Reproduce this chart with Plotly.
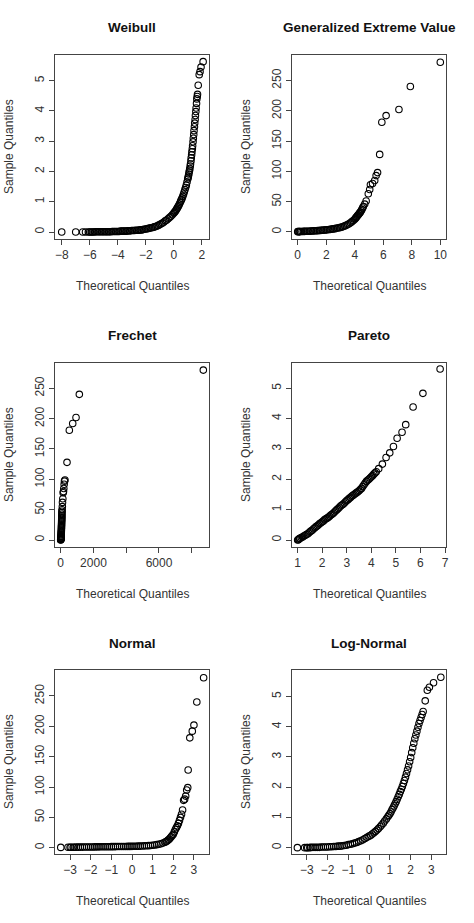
import plotly.graph_objects as go

titles = ["Weibull", "Generalized Extreme Value", "Frechet", "Pareto", "Normal", "Log-Normal"]

weibull_pts = [(-8.0,0.0),(-7.0,0.0),(-6.5,0.0),(-6.3,0.0),(-6.1,0.0),(-6.0,0.0),(-5.9,0.0),(-5.8,0.0),(-5.7,0.0),(-5.6,0.01),(-5.5,0.01),(-5.4,0.01),(-5.3,0.01),(-5.2,0.01),(-5.1,0.01),(-5.0,0.01),
    (-4.9,0.01),(-4.8,0.01),(-4.7,0.01),(-4.6,0.01),(-4.5,0.01),(-4.4,0.02),(-4.3,0.02),(-4.2,0.02),(-4.1,0.02),(-4.0,0.02),(-3.9,0.02),(-3.8,0.03),(-3.7,0.03),(-3.6,0.03),(-3.5,0.03),(-3.4,0.03),(-3.3,0.04),(-3.2,0.04),(-3.1,0.04),(-3.0,0.05),
    (-2.9,0.05),(-2.8,0.05),(-2.7,0.06),(-2.6,0.06),(-2.5,0.06),(-2.4,0.07),(-2.3,0.07),(-2.2,0.08),(-2.1,0.09),(-2.0,0.1),(-1.9,0.11),(-1.8,0.12),(-1.7,0.13),(-1.6,0.14),(-1.5,0.15),(-1.4,0.17),(-1.3,0.18),(-1.2,0.2),(-1.1,0.22),(-1.0,0.25),
    (-0.9,0.27),(-0.8,0.3),(-0.7,0.33),(-0.6,0.37),(-0.5,0.4),(-0.4,0.44),(-0.3,0.48),(-0.2,0.52),(-0.1,0.57),(0.0,0.62),(0.05,0.65),(0.1,0.68),(0.15,0.71),(0.2,0.75),(0.25,0.79),(0.3,0.83),(0.35,0.87),(0.4,0.92),(0.45,0.97),(0.5,1.02),
    (0.55,1.07),(0.6,1.12),(0.65,1.18),(0.7,1.25),(0.75,1.32),(0.8,1.4),(0.85,1.47),(0.9,1.55),(0.95,1.65),(1.0,1.75),(1.03,1.8),(1.05,1.85),(1.08,1.92),(1.1,1.98),(1.13,2.04),(1.15,2.1),(1.18,2.18),(1.2,2.25),(1.23,2.35),(1.25,2.45),(1.28,2.55),
    (1.3,2.65),(1.33,2.75),(1.35,2.85),(1.38,2.98),(1.4,3.1),(1.43,3.22),(1.45,3.35),(1.48,3.48),(1.5,3.6),(1.53,3.72),(1.55,3.85),(1.58,3.98),(1.6,4.1),(1.63,4.25),(1.65,4.4),(1.68,4.48),(1.7,4.55),(1.75,4.85),
    (1.82,5.2),(1.88,5.3),(1.95,5.45),(2.1,5.63)]

gev_pts = [(0.0,0.5),(0.05,0.55),(0.1,0.6),(0.15,0.65),(0.2,0.7),(0.3,0.8),(0.4,0.9),(0.5,1.0),(0.6,1.1),(0.7,1.2),(0.8,1.3),(0.9,1.45),(1.0,1.6),(1.1,1.75),(1.2,1.9),(1.3,2.05),(1.4,2.2),(1.5,2.4),(1.6,2.6),(1.7,2.8),
    (1.8,3.0),(1.9,3.25),(2.0,3.5),(2.1,3.75),(2.2,4.0),(2.3,4.35),(2.4,4.7),(2.5,5.1),(2.6,5.5),(2.7,6.0),(2.8,6.5),(2.9,7.0),(3.0,7.5),(3.1,8.2),(3.2,9.0),(3.3,10.0),(3.4,11.0),(3.5,12.2),(3.6,13.5),(3.7,15.2),
    (3.8,17.0),(3.9,19.0),(4.0,21.0),(4.05,22.5),(4.1,24.0),(4.15,25.5),(4.2,27.0),(4.25,28.5),(4.3,30.0),(4.35,31.5),(4.4,33.0),(4.45,35.0),(4.5,37.0),(4.55,39.5),(4.6,42.0),(4.7,46.0),(4.8,51.0),
    (4.95,63.0),(5.05,70.0),(5.1,78.0),(5.25,80.0),(5.4,85.0),(5.5,93.0),(5.6,98.0),(5.75,128.0),(5.9,181.0),(6.2,192.0),
    (7.1,202.0),(7.9,240.0),(10.0,280.0)]

frechet_pts = [(0,0),(2,0.5),(5,1),(8,1.5),(10,2),(12,2.5),(15,3),(18,4),(20,5),(22,6),(25,7),(28,8.5),(30,10),(33,11.5),(35,13),(38,14.5),(40,16),(43,18),(45,20),(48,22),(50,24),(53,26),(55,28),(58,30),(60,32),
    (63,34),(65,36),(68,38),(70,40),(73,42.5),(75,45),(80,47.5),(85,50),(100,55),(110,62),(130,68),(150,78),(170,80),(190,85),(210,92),(230,97),
    (260,99),(385,128),(526,181),(733,192),(935,202),(1137,240),(8706,280)]

pareto_pts = [(1.0,0.0),(1.03,0.01),(1.05,0.03),(1.08,0.05),(1.1,0.06),(1.15,0.08),(1.2,0.1),(1.25,0.13),(1.3,0.15),(1.35,0.18),(1.4,0.2),(1.45,0.23),(1.5,0.27),(1.55,0.3),(1.6,0.33),(1.65,0.37),(1.7,0.4),(1.75,0.44),(1.8,0.47),(1.85,0.5),
    (1.9,0.54),(1.95,0.57),(2.0,0.6),(2.05,0.63),(2.1,0.67),(2.15,0.7),(2.2,0.72),(2.25,0.75),(2.3,0.78),(2.35,0.82),(2.4,0.85),(2.45,0.88),(2.5,0.92),(2.55,0.96),(2.6,1.0),(2.65,1.04),(2.7,1.08),(2.75,1.12),(2.8,1.15),(2.85,1.18),
    (2.9,1.22),(2.95,1.26),(3.0,1.3),(3.05,1.33),(3.1,1.37),(3.15,1.4),(3.2,1.44),(3.25,1.47),(3.3,1.5),(3.35,1.53),(3.4,1.56),(3.45,1.59),(3.5,1.62),(3.55,1.66),(3.6,1.7),(3.65,1.76),(3.7,1.82),(3.75,1.88),(3.8,1.93),(3.85,1.97),
    (3.9,2.0),(3.95,2.04),(4.0,2.08),(4.05,2.12),(4.1,2.17),(4.15,2.21),(4.2,2.25),(4.3,2.35),(4.45,2.5),(4.6,2.72),(4.75,2.87),(4.9,3.08),(5.05,3.35),
    (5.25,3.55),(5.4,3.8),(5.7,4.38),(6.1,4.83),(6.8,5.63)]

normal_pts = [(-3.45,0.5),(-3.1,0.6),(-3.0,0.65),(-2.95,0.7),(-2.85,0.75),(-2.8,0.8),(-2.7,0.85),(-2.6,0.9),(-2.5,0.95),(-2.4,1.0),(-2.3,1.05),(-2.2,1.1),(-2.1,1.15),(-2.0,1.2),(-1.9,1.25),(-1.8,1.3),(-1.7,1.35),(-1.6,1.4),
    (-1.5,1.45),(-1.4,1.5),(-1.3,1.55),(-1.2,1.6),(-1.1,1.65),(-1.0,1.7),(-0.9,1.75),(-0.8,1.8),(-0.7,1.85),(-0.6,1.9),(-0.5,1.95),(-0.4,2.0),(-0.3,2.05),(-0.2,2.1),(-0.1,2.15),(0.0,2.2),(0.1,2.3),(0.2,2.4),(0.3,2.5),(0.4,2.6),
    (0.5,2.8),(0.6,3.0),(0.7,3.2),(0.8,3.4),(0.9,3.7),(1.0,4.0),(1.1,4.5),(1.2,5.0),(1.3,5.7),(1.4,6.5),(1.5,7.7),(1.6,9.0),(1.65,10.0),(1.7,11.0),(1.75,12.5),(1.8,14.0),(1.85,16.0),(1.9,18.0),(1.95,20.0),(2.0,22.0),
    (2.05,26.0),(2.1,30.0),(2.15,33.0),(2.2,36.0),(2.25,40.0),(2.3,45.0),(2.35,50.0),(2.4,55.0),(2.45,62.0),(2.5,78.0),(2.55,80.0),(2.6,85.0),(2.65,95.0),
    (2.7,99.0),(2.72,128.0),(2.8,181.0),(2.92,192.0),(3.0,202.0),(3.14,240.0),(3.47,280.0)]

lognormal_pts = [(-3.45,0.0),(-3.1,0.0),(-3.0,0.0),(-2.95,0.0),(-2.85,0.0),(-2.8,0.01),(-2.7,0.01),(-2.6,0.01),(-2.5,0.01),(-2.4,0.01),(-2.3,0.02),(-2.2,0.02),(-2.1,0.02),(-2.0,0.02),(-1.9,0.03),(-1.8,0.03),(-1.7,0.04),
    (-1.6,0.04),(-1.5,0.05),(-1.4,0.05),(-1.3,0.06),(-1.2,0.07),(-1.1,0.08),(-1.0,0.1),(-0.9,0.11),(-0.8,0.13),(-0.7,0.15),(-0.6,0.17),(-0.5,0.2),(-0.4,0.23),(-0.3,0.26),(-0.2,0.3),(-0.1,0.34),(0.0,0.38),(0.08,0.41),(0.15,0.45),
    (0.23,0.49),(0.3,0.53),(0.38,0.58),(0.45,0.63),(0.53,0.69),(0.6,0.75),(0.68,0.81),(0.75,0.88),(0.83,0.95),(0.9,1.02),(0.95,1.07),(1.0,1.12),(1.05,1.18),(1.1,1.25),(1.15,1.31),(1.2,1.38),(1.25,1.45),(1.3,1.52),(1.35,1.6),(1.4,1.68),
    (1.45,1.76),(1.5,1.85),(1.55,1.93),(1.6,2.02),(1.65,2.12),(1.7,2.22),(1.75,2.33),(1.8,2.45),(1.85,2.57),(1.9,2.7),(1.95,2.84),(2.0,2.98),(2.05,3.14),(2.1,3.3),(2.15,3.45),(2.2,3.6),(2.25,3.72),(2.3,3.85),(2.35,3.98),(2.4,4.1),
    (2.45,4.2),(2.5,4.3),(2.55,4.4),(2.6,4.5),(2.7,4.85),(2.8,5.2),(2.9,5.3),(3.1,5.45),(3.45,5.63)]

panels_pts = [weibull_pts, gev_pts, frechet_pts, pareto_pts, normal_pts, lognormal_pts]

x_ranges = [[-8.48, 2.52], [-0.4, 10.4], [-348, 9053], [0.77, 7.04], [-3.73, 3.73], [-3.71, 3.70]]
y_ranges = [[-0.23, 5.85], [-11.6, 292], [-11.5, 291.7], [-0.23, 5.83], [-10.4, 292.8], [-0.21, 5.87]]
x_ticks = [[-8, -6, -4, -2, 0, 2], [0, 2, 4, 6, 8, 10], [0, 2000, 4000, 6000, 8000], [1, 2, 3, 4, 5, 6, 7],
           [-3, -2, -1, 0, 1, 2, 3], [-3, -2, -1, 0, 1, 2, 3]]
x_ticktext = [None, None, ["0", "2000", "", "6000", ""], None, None, None]
y_ticks = [[0, 1, 2, 3, 4, 5], [0, 50, 100, 150, 200, 250], [0, 50, 100, 150, 200, 250], [0, 1, 2, 3, 4, 5],
           [0, 50, 100, 150, 200, 250], [0, 1, 2, 3, 4, 5]]

W, H = 474, 923
col_px = [(55, 209), (292, 446)]
row_px = [(55, 239), (363, 547), (670, 854)]
title_y_px = [28, 335, 643]

fig = go.Figure()
font = "Liberation Sans, Arial, sans-serif"
for i, pts in enumerate(panels_pts):
    r, c = divmod(i, 2)
    n = i + 1
    xa = "x" if n == 1 else f"x{n}"
    ya = "y" if n == 1 else f"y{n}"
    fig.add_trace(go.Scatter(
        x=[p[0] for p in pts], y=[p[1] for p in pts], mode="markers", xaxis=xa, yaxis=ya,
        marker=dict(symbol="circle-open", size=6.5, color="black", line=dict(width=1.1)),
        showlegend=False, hoverinfo="skip"))
    x0, x1 = col_px[c]
    y0, y1 = row_px[r]
    xd = [x0 / W, x1 / W]
    yd = [1 - y1 / H, 1 - y0 / H]
    ax = dict(domain=xd, range=x_ranges[i], tickvals=x_ticks[i], showgrid=False, zeroline=False,
              showline=True, mirror=True, linecolor="#444", linewidth=1, ticks="outside", ticklen=5,
              tickcolor="#444", tickfont=dict(family=font, size=12, color="#333"),
              anchor=ya, automargin=False)
    if x_ticktext[i] is not None:
        ax["ticktext"] = x_ticktext[i]
    ay = dict(domain=yd, range=y_ranges[i], tickvals=y_ticks[i], showgrid=False, zeroline=False,
              showline=True, mirror=True, linecolor="#444", linewidth=1, ticks="outside", ticklen=5,
              tickcolor="#444", tickangle=-90, tickfont=dict(family=font, size=12, color="#333"),
              anchor=xa, automargin=False)
    fig.layout["xaxis" if n == 1 else f"xaxis{n}"] = ax
    fig.layout["yaxis" if n == 1 else f"yaxis{n}"] = ay
    cx = (x0 + x1) / 2 / W
    common = dict(xref="paper", yref="paper", showarrow=False, xanchor="center", yanchor="middle")
    fig.add_annotation(text=f"<b>{titles[i]}</b>", x=cx, y=1 - title_y_px[r] / H,
                       font=dict(family=font, size=13.5, color="#111"), **common)
    fig.add_annotation(text="Theoretical Quantiles", x=cx, y=1 - (y1 + 47) / H,
                       font=dict(family=font, size=12, color="#333"), **common)
    fig.add_annotation(text="Sample Quantiles", x=(x0 - 46) / W, y=(yd[0] + yd[1]) / 2, textangle=-90,
                       font=dict(family=font, size=12, color="#333"), **common)

fig.update_layout(width=W, height=H, margin=dict(l=0, r=0, t=0, b=0), autosize=False,
                  paper_bgcolor="white", plot_bgcolor="white")
fig.write_html("out.html", config={"displayModeBar": False},
               post_script="document.body.style.margin='0';")
